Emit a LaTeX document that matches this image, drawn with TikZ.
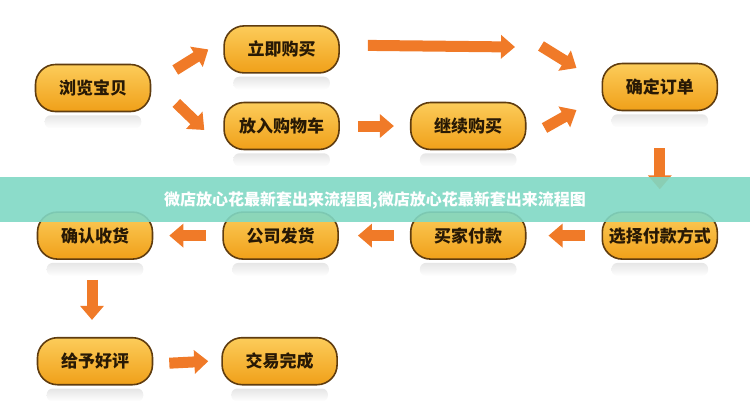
\documentclass[tikz,border=0pt]{standalone}
\usepackage{fontspec}
\newfontfamily\cjk{Noto Sans CJK SC}
\usetikzlibrary{arrows.meta, positioning}

\definecolor{boxtop}{RGB}{252,204,90}
\definecolor{boxbottom}{RGB}{240,160,25}
\definecolor{boxline}{RGB}{95,60,15}
\definecolor{arrowfill}{RGB}{240,122,40}
\definecolor{bannerteal}{RGB}{128,216,196}

\begin{document}
\begin{tikzpicture}[
    x=1pt, y=-1pt,
    node distance=72pt and 72pt,
    stage/.style={draw=boxline, line width=1.6pt, rounded corners=20pt, minimum width=115pt, minimum height=47pt, inner sep=2pt, top color=boxtop, bottom color=boxbottom, text={rgb,255:red,40;green,25;blue,5}, font=\cjk\bfseries\fontsize{17}{17}\selectfont},
    arrow/.style={-{Triangle[length=14pt,width=23pt]}, line width=11pt, draw=arrowfill}
]
\useasboundingbox (0,0) rectangle (750,400);

% Nodes
\node (browse) [stage] at (93,88) {浏览宝贝};
\node (cart) [stage, right=of browse, yshift=-38pt] {放入购物车};
\node (buy) [stage, above=28pt of cart] {立即购买};
\node (cont) [stage, right=70pt of cart] {继续购买};
\node (confirm) [stage, right=75pt of cont, yshift=39pt] {确定订单};
\node (pay) [stage, below=100pt of confirm] {选择付款方式};
\node (buyerpay) [stage, left=75pt of pay] {买家付款};
\node (ship) [stage, left=71pt of buyerpay] {公司发货};
\node (receive) [stage, left=69pt of ship] {确认收货};
\node (review) [stage, below=77pt of receive] {给予好评};
\node (done) [stage, right=68pt of review] {交易完成};

% Reflections
\foreach \n in {browse, cart, buy, cont, confirm, pay, buyerpay, ship, receive, review, done}
    \shade[top color=black!10, bottom color=white, rounded corners=6pt] ([xshift=10pt,yshift=-3pt]\n.south west) rectangle ([xshift=-10pt,yshift=-16pt]\n.south east);

% Edges
\coordinate (bend) at (515,47);
\draw [arrow] ([xshift=24pt,yshift=18pt]browse.east) -- ([xshift=-15pt]buy.west);
\draw [arrow] ([xshift=25pt,yshift=-15pt]browse.east) -- ([xshift=-19pt,yshift=-4pt]cart.west);
\draw [arrow] ([xshift=28pt,yshift=4pt]buy.east) -- (bend);
\draw [arrow] ([xshift=26pt,yshift=1pt]bend) -- ([xshift=-25pt,yshift=19pt]confirm.west);
\draw [arrow] ([xshift=18pt]cart.east) -- ([xshift=-16pt]cont.west);
\draw [arrow] ([xshift=18pt,yshift=-2pt]cont.east) -- ([xshift=-25pt,yshift=-23pt]confirm.west);
\draw [arrow] ([yshift=-37pt]confirm.south) -- ([yshift=22pt]pay.north);
\draw [arrow] ([xshift=-17pt]pay.west) -- ([xshift=22pt]buyerpay.east);
\draw [arrow] ([xshift=-16pt]buyerpay.west) -- ([xshift=19pt]ship.east);
\draw [arrow] ([xshift=-16pt]ship.west) -- ([xshift=16pt]receive.east);
\draw [arrow] ([xshift=-3pt,yshift=-20pt]receive.south) -- ([xshift=-3pt,yshift=17pt]review.north);
\draw [arrow] ([xshift=16pt,yshift=-2pt]review.east) -- ([xshift=-13pt]done.west);

% Banner
\fill [bannerteal, fill opacity=0.9] (0,177) rectangle (750,222);
\node (title) [text=white, font=\cjk\bfseries\fontsize{16}{16}\selectfont] at (375,200) {微店放心花最新套出来流程图,微店放心花最新套出来流程图};

\end{tikzpicture}
\end{document}
